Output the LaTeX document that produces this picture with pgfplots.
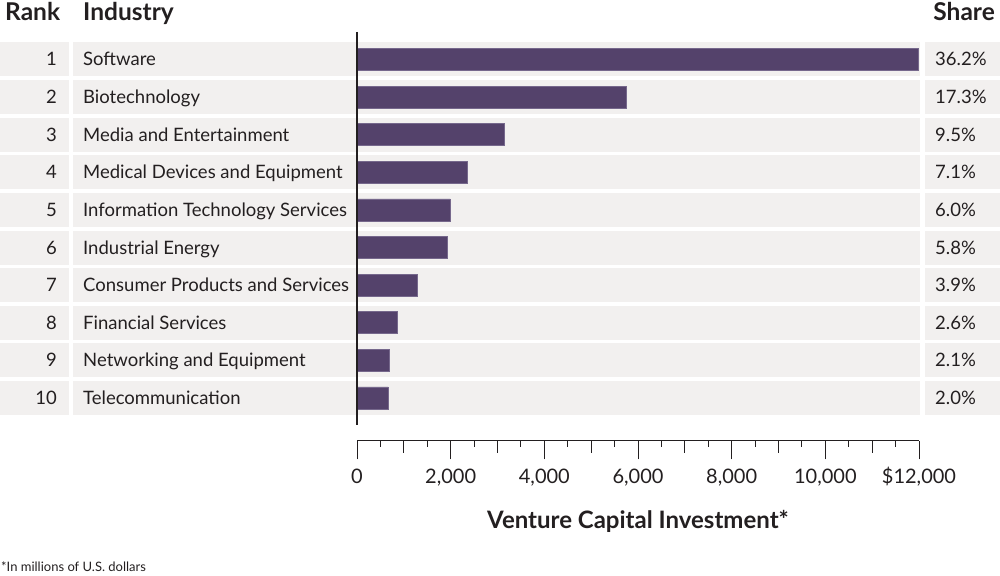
\documentclass[border=0pt]{standalone}
\usepackage{fontspec}
\setmainfont{Lato}
\usepackage{pgfplots}
\pgfplotsset{compat=1.18}
\definecolor{band}{HTML}{F2F0EF}
\definecolor{barc}{HTML}{54426B}
\definecolor{barline}{HTML}{76688C}
\definecolor{ink}{HTML}{231F20}
\begin{document}
\begin{tikzpicture}[x=1pt,y=1pt]
\path[use as bounding box] (0,0) rectangle (1000,-575);
\foreach \i in {0,...,9} {
  \pgfmathsetmacro\yc{-(59.5+37.6*\i)}
  \fill[band] (0,\yc+17) rectangle (69,\yc-17);
  \fill[band] (73,\yc+17) rectangle (920,\yc-17);
  \fill[band] (925,\yc+17) rectangle (1000,\yc-17);
}
\node[anchor=base west, inner sep=0pt, text=ink, font=\fontsize{24.5}{28}\selectfont\bfseries] at (5,-20.5) {Rank};
\node[anchor=base west, inner sep=0pt, text=ink, font=\fontsize{24.5}{28}\selectfont\bfseries] at (83,-20.5) {Industry};
\node[anchor=base east, inner sep=0pt, text=ink, font=\fontsize{24.5}{28}\selectfont\bfseries] at (995,-20.5) {Share};
\begin{axis}[
  at={(357pt,-440.7pt)}, anchor=south west,
  scale only axis, width=562pt, height=408.7pt,
  xmin=0, xmax=12000, ymin=-0.138, ymax=10.731,
  axis x line*=bottom, axis y line*=left,
  y axis line style={draw=none},
  x axis line style={ink, line width=1.2pt},
  tick style={ink, line width=1pt},
  ytick style={draw=none},
  ytick={1,...,10},
  yticklabels={Telecommunication, Networking and Equipment, Financial Services, Consumer Products and Services, Industrial Energy, Information Technology Services, Medical Devices and Equipment, Media and Entertainment, Biotechnology, Software},
  yticklabel style={anchor=base west, inner sep=0pt, xshift=-255.3pt, yshift=-6.5pt, font=\fontsize{18.5}{22}\selectfont, text=ink},
  xtick={0,2000,...,12000},
  scaled x ticks=false,
  xticklabels={0,{2,000},{4,000},{6,000},{8,000},{10,000},{\$12,000}},
  xticklabel style={anchor=base, inner sep=0pt, yshift=-24.1pt, font=\fontsize{20}{24}\selectfont, text=ink},
  minor xtick={500,1500,...,11500},
  tick align=outside,
  major tick length=18.7pt, minor tick length=6pt,
  xlabel={Venture Capital Investment*},
  x label style={at={(axis description cs:0.5,0)}, anchor=base, yshift=-87.3pt, inner sep=0pt, font=\fontsize{24}{28}\selectfont\bfseries, text=ink},
  clip=false,
]
\addplot[xbar, bar width=22pt, fill=barc, draw=barline, line width=0.6pt] coordinates {
  (662,1) (695,2) (862,3) (1295,4) (1920,5) (1990,6) (2360,7) (3155,8) (5740,9) (11980,10)};
\end{axis}
\begin{axis}[
  at={(357pt,-440.7pt)}, anchor=south west,
  scale only axis, width=562pt, height=408.7pt,
  xmin=0, xmax=12000, ymin=-0.138, ymax=10.731,
  axis x line*=bottom, axis y line=none,
  x axis line style={draw=none},
  xtick={1000,3000,...,11000}, xticklabels={},
  scaled x ticks=false,
  tick style={ink, line width=1pt},
  tick align=outside, major tick length=12pt,
]
\end{axis}
\draw[ink, line width=2pt] (357,-32) -- (357,-425);
\foreach \r [count=\i from 0] in {1,2,3,4,5,6,7,8,9,10} {
  \node[anchor=base east, inner sep=0pt, text=ink, font=\fontsize{18.5}{22}\selectfont] at (57,{-(59.5+37.6*\i)-6.5}) {\r};
}
\foreach \s [count=\i from 0] in {36.2,17.3,9.5,7.1,6.0,5.8,3.9,2.6,2.1,2.0} {
  \node[anchor=base west, inner sep=0pt, text=ink, font=\fontsize{18.5}{22}\selectfont] at (935,{-(59.5+37.6*\i)-6.5}) {\s\%};
}
\node[anchor=base west, inner sep=0pt, text=ink, font=\fontsize{13}{15}\selectfont] at (1,-571) {*In millions of U.S. dollars};
\end{tikzpicture}
\end{document}
